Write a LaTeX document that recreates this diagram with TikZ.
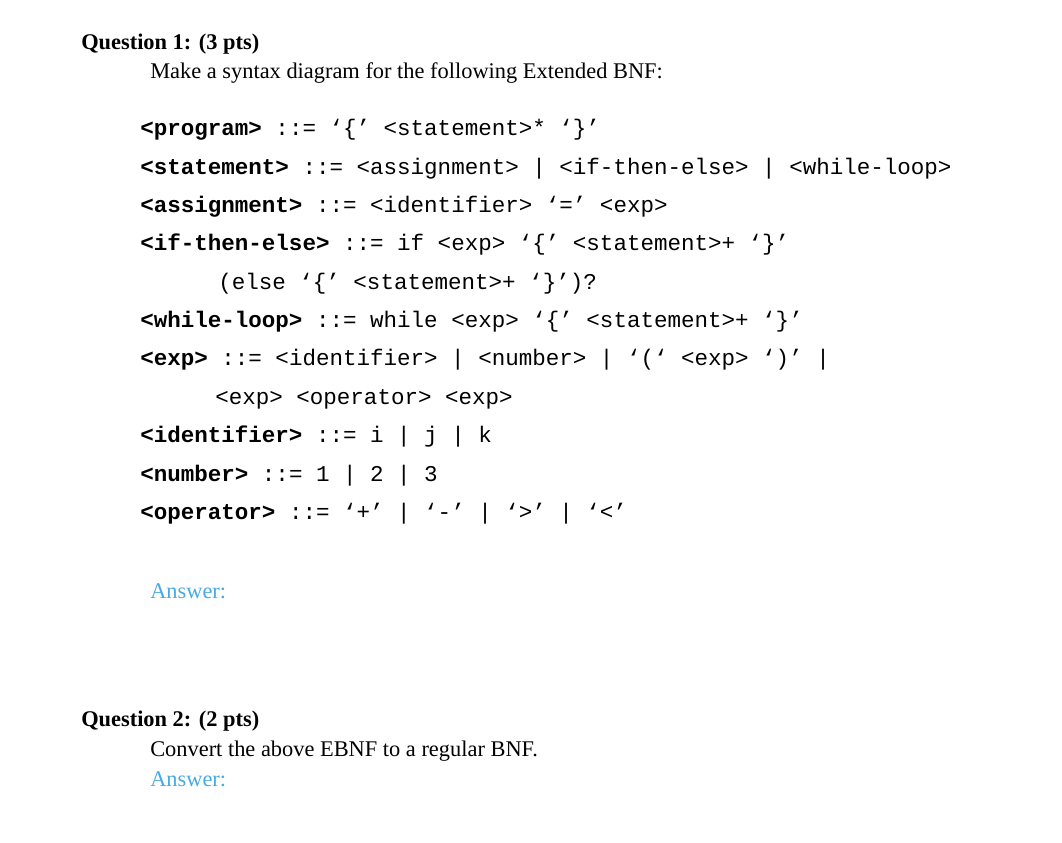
\documentclass[tikz,border=0pt]{standalone}
\usepackage{fontspec}
\setmainfont{Liberation Serif}
\setmonofont{Liberation Mono}
\definecolor{ans}{RGB}{70,170,230}
\begin{document}
\begin{tikzpicture}[x=0.75pt,y=-0.75pt,
  txt/.style={anchor=base west,inner sep=0pt,font=\fontsize{16.8}{20}\selectfont},
  code/.style={anchor=base west,inner sep=0pt,font=\ttfamily\fontsize{16.9}{20}\selectfont}]
\useasboundingbox (0,0) rectangle (1062,842);
\node[txt] (q1) at (81,50) {\textbf{Question 1: (3 pts)}};
\node[txt] (m1) at (150,79) {Make a syntax diagram for the following Extended BNF:};
\node[code] (l1) at (140,135) {\textbf{<program>} ::= ‘\{’ <statement>* ‘\}’};
\node[code] (l2) at (140,174) {\textbf{<statement>} ::= <assignment> | <if-then-else> | <while-loop>};
\node[code] (l3) at (140,212) {\textbf{<assignment>} ::= <identifier> ‘=’ <exp>};
\node[code] (l4) at (140,250) {\textbf{<if-then-else>} ::= if <exp> ‘\{’ <statement>+ ‘\}’};
\node[code] (l5) at (218,289) {(else ‘\{’ <statement>+ ‘\}’)?};
\node[code] (l6) at (140,327) {\textbf{<while-loop>} ::= while <exp> ‘\{’ <statement>+ ‘\}’};
\node[code] (l7) at (140,365) {\textbf{<exp>} ::= <identifier> | <number> | ‘(‘ <exp> ‘)’ |};
\node[code] (l8) at (215,404) {<exp> <operator> <exp>};
\node[code] (l9) at (140,442) {\textbf{<identifier>} ::= i | j | k};
\node[code] (l10) at (140,481) {\textbf{<number>} ::= 1 | 2 | 3};
\node[code] (l11) at (140,519) {\textbf{<operator>} ::= ‘+’ | ‘-’ | ‘>’ | ‘<’};
\node[txt,text=ans] (a1) at (150,598) {Answer:};
\node[txt] (q2) at (81,726) {\textbf{Question 2: (2 pts)}};
\node[txt] (m2) at (150,756) {Convert the above EBNF to a regular BNF.};
\node[txt,text=ans] (a2) at (150,786) {Answer:};
\end{tikzpicture}
\end{document}
